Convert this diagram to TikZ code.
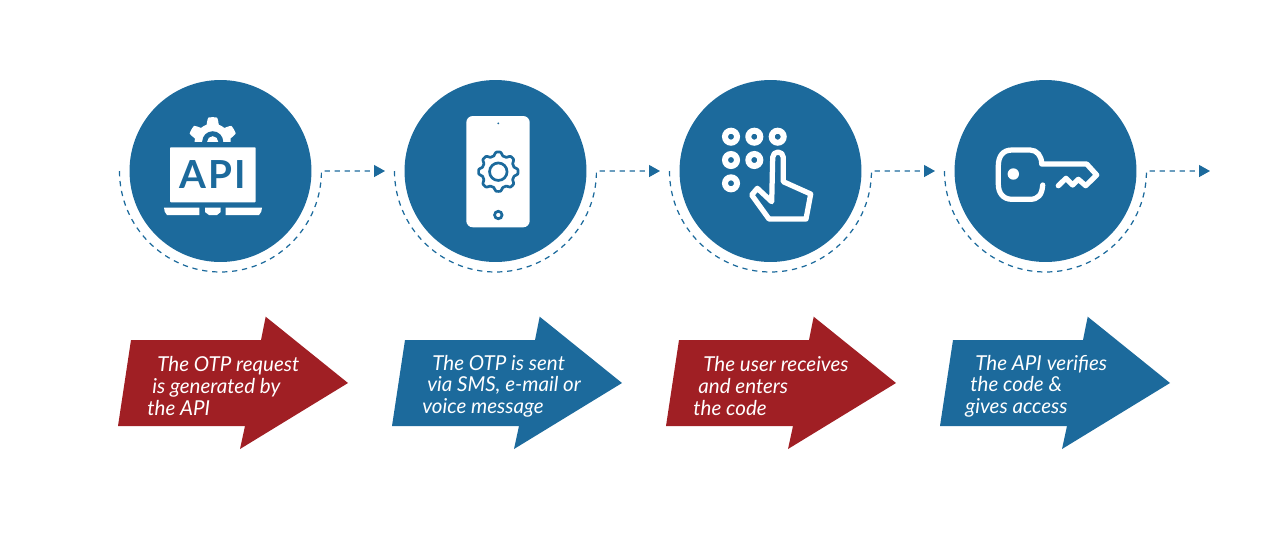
\documentclass[tikz,border=0pt]{standalone}
\usepackage{fontspec}
\setmainfont{Lato}
\usetikzlibrary{arrows.meta,calc}
\definecolor{otpblue}{HTML}{1C6A9C}
\definecolor{otpred}{HTML}{A01F24}
\tikzset{
    stepcircle/.style={circle, fill=otpblue, minimum size=3.64cm, inner sep=0pt},
    steptext/.style={white, font=\fontsize{11.7}{12.3}\selectfont\itshape, anchor=west, align=left, inner sep=0pt},
    dashline/.style={otpblue, line width=0.7pt, dash pattern=on 3pt off 2.7pt, -{Triangle[length=0.22cm,width=0.24cm]}},
    iconline/.style={white, line width=0.105cm, line cap=round, line join=round},
}
\begin{document}
\begin{tikzpicture}[x=0.02cm, y=-0.02cm]
    \useasboundingbox (0,0) rectangle (1284,559);

    % circles and dotted connectors
    \foreach \n/\x in {a/220.5, b/495.5, c/770.5, d/1045.5} {
        \node[stepcircle] (circ\n) at (\x, 171) {};
        \coordinate (tip\n) at (\x+164.5, 171);
        \draw[dashline] ($(circ\n)+(-101,0)$) arc[start angle=180, end angle=357.7, radius=2.02cm] |- (tip\n);
    }

    % arrows
    \foreach \x/\col in {0/otpred, 274/otpblue, 548/otpred, 822/otpblue}
        \fill[\col, shift={(\x,0)}] (131,340) -- (261,340) -- (265.7,316.7) -- (348,383) -- (240,449) -- (245,426) -- (118,426) -- cycle;

    \node[steptext] (texta) at (147,386) {\hspace*{0.2cm}The OTP request\\\hspace*{0.1cm}is generated by\\the API};
    \node[steptext] (textb) at (422,386) {\hspace*{0.2cm}The OTP is sent\\\hspace*{0.1cm}via SMS, e-mail or\\voice message};
    \node[steptext] (textc) at (693,386) {\hspace*{0.2cm}The user receives\\\hspace*{0.1cm}and enters\\the code};
    \node[steptext] (textd) at (965,386) {\hspace*{0.2cm}The API verifies\\\hspace*{0.1cm}the code \&\\gives access};

    % api icon
    \begin{scope}[shift={(212.7,141.7)}]
        \clip (-30,-30) rectangle (30,0);
        \fill[white] plot[domain=0:360, samples=181, smooth] (\x:{0.425cm-0.065cm*max(-1,min(1,2.2*cos(6*\x)))}) -- cycle;
        \fill[otpblue] (0,0) circle[radius=0.21cm];
        \fill[white] (0,0) circle[radius=0.11cm];
    \end{scope}
    \fill[white, rounded corners=0.5pt] (170,147.3) rectangle (255.7,202.3);
    \node[text=otpblue, font=\fontsize{22}{22}\selectfont\bfseries\addfontfeature{LetterSpace=6}, inner sep=0pt] (apilabel) at (212.5,175) {API};
    \fill[white] (164,207.7) -- (199.3,207.7) -- (199.3,215) -- (167,215) to[bend left=20] cycle;
    \fill[white] (205,207.7) -- (220.7,207.7) -- (220.7,212) to[bend left=20] (217,215) -- (209,215) to[bend left=20] (205,212) -- cycle;
    \fill[white] (225.7,207.7) -- (262,207.7) to[bend left=20] (259,215) -- (225.7,215) -- cycle;

    % phone icon
    \fill[white, rounded corners=0.13cm] (466.3,116) rectangle (529.7,227.3);
    \begin{scope}[shift={(498.3,171.7)}]
        \draw[otpblue, line width=0.054cm, line join=round] plot[domain=0:360, samples=145, smooth] (\x:{0.36cm+0.034cm*max(-1,min(1,1.6*cos(8*\x)))}) -- cycle;
        \draw[otpblue, line width=0.054cm] (0,0) circle[radius=0.175cm];
    \end{scope}
    \fill[otpblue] (498.3,123.3) circle[radius=0.02cm];
    \draw[otpblue, line width=0.054cm] (498.3,215) circle[radius=0.075cm];

    % keypad icon
    \foreach \x/\y in {731/136.7, 754.3/136.7, 777.7/136.7, 731/160, 754.3/160, 731/183.3}
        \draw[white, line width=0.12cm] (\x,\y) circle[radius=0.12cm];
    \draw[iconline] (772.7,157.3) arc[start angle=180, end angle=0, radius=0.106cm] -- (783.3,181.7) -- (810.7,194) -- (806,219) -- (769,219) -- (751.7,195) -- (757.3,188.3) -- (771.7,201.7) -- cycle;

    % key icon
    \draw[iconline] (1042.7,185) .. controls (1042,195) and (1038,199.3) .. (1030,199.3) -- (1012,199.3) .. controls (1003,199.3) and (998.3,193) .. (998.3,184) -- (998.3,166) .. controls (998.3,156) and (1003,150) .. (1012,150) -- (1030,150) .. controls (1037,150) and (1041.7,156) .. (1041.7,164) -- (1086.7,164) -- (1096.7,175) -- (1085.7,185.7) -- (1078.3,179.3) -- (1072.7,185) -- (1066,178.3) -- (1058.3,185.7);
    \fill[white] (1013.3,174) circle[radius=0.114cm];
\end{tikzpicture}
\end{document}
